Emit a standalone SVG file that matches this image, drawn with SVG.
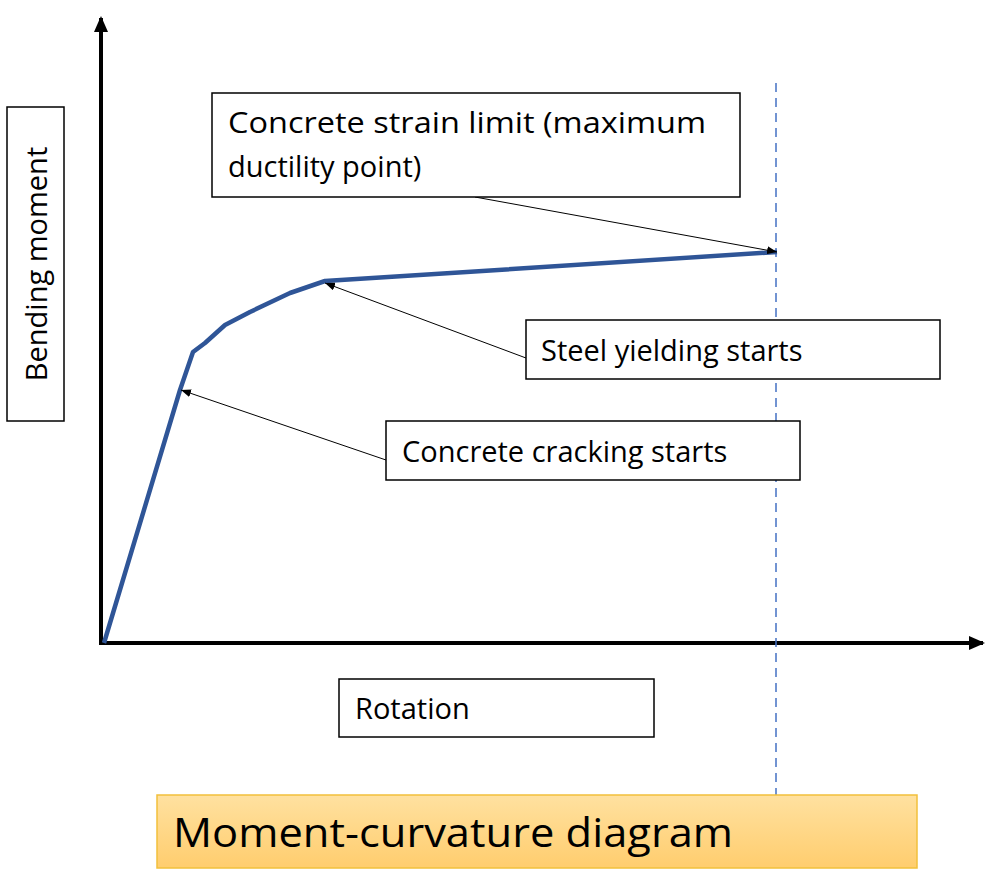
<svg xmlns="http://www.w3.org/2000/svg" width="999" height="892" viewBox="0 0 999 892">
<style>
.box{fill:#fff;stroke:#000;stroke-width:1.5}
.t{font-family:"Open Sans","Liberation Sans",sans-serif;font-size:29px;fill:#000}
.ptr{stroke:#000;stroke-width:1;fill:none;marker-end:url(#a)}
.ax{stroke:#000;stroke-width:4;fill:none}
</style>
<defs>
<marker id="a" markerWidth="10" markerHeight="8" refX="10" refY="4" orient="auto" markerUnits="userSpaceOnUse"><path d="M0,0L10,4L0,8z" fill="#000"/></marker>
<marker id="big" markerWidth="16" markerHeight="14" refX="14" refY="7" orient="auto" markerUnits="userSpaceOnUse"><path d="M0,0L16,7L0,14z" fill="#000"/></marker>
<linearGradient id="g" x1="0" y1="0" x2="0" y2="1"><stop offset="0" stop-color="#FFE1A0"/><stop offset="1" stop-color="#FFCD6E"/></linearGradient>
</defs>
<g id="connectors">
<line class="ax" x1="101" y1="645" x2="101" y2="18" marker-end="url(#big)"/>
<line class="ax" x1="99" y1="643" x2="983" y2="643" marker-end="url(#big)"/>
<line x1="776" y1="83" x2="776" y2="795" stroke="#4472C4" stroke-width="1.5" stroke-dasharray="9,6"/>
<polyline points="104,643 180,390 193,352 205,343 225,325 250,312 290,293 325,281 777,252" fill="none" stroke="#2F5597" stroke-width="4.5" stroke-linejoin="round"/>
<line class="ptr" x1="475" y1="197" x2="777" y2="252"/>
<line class="ptr" x1="526" y1="358" x2="325" y2="283"/>
<line class="ptr" x1="386" y1="460" x2="181" y2="390"/>
</g>
<g id="ylabel"><rect class="box" x="7" y="107" width="57" height="314"/><text class="t" transform="translate(47,264) rotate(-90)" text-anchor="middle">Bending moment</text></g>
<g id="strain"><rect class="box" x="212" y="93" width="528" height="104"/><text class="t" x="228" y="133" textLength="478" lengthAdjust="spacingAndGlyphs">Concrete strain limit (maximum</text><text class="t" x="228" y="177">ductility point)</text></g>
<g id="yield"><rect class="box" x="526" y="320" width="414" height="59"/><text class="t" x="541" y="361">Steel yielding starts</text></g>
<g id="crack"><rect class="box" x="386" y="421" width="414" height="59"/><text class="t" x="402" y="462">Concrete cracking starts</text></g>
<g id="xlabel"><rect class="box" x="339" y="679" width="315" height="58"/><text class="t" x="355" y="719">Rotation</text></g>
<g id="title"><rect x="157" y="795" width="760" height="73" fill="url(#g)" stroke="#F2C03B" stroke-width="1.5"/><text x="173" y="847" font-family="Open Sans,Liberation Sans,sans-serif" font-size="40" fill="#000" textLength="560" lengthAdjust="spacingAndGlyphs">Moment-curvature diagram</text></g>
</svg>
